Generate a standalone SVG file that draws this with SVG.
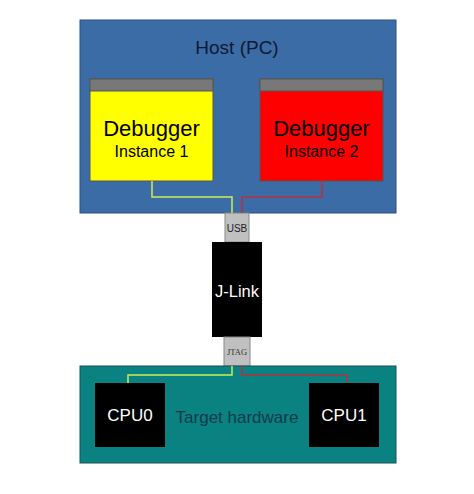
<svg xmlns="http://www.w3.org/2000/svg" width="474" height="494" viewBox="0 0 474 494">
<style>
.lbl{font-family:"Liberation Sans",Arial,sans-serif;text-anchor:middle}
.wy{fill:none;stroke:#ccee55;stroke-width:1.5}
.wr{fill:none;stroke:#b83040;stroke-width:1.5}
.bar{fill:#787878;stroke:#555;stroke-width:1}
</style>
<rect width="474" height="494" fill="#fff"/>
<g id="host">
<rect x="80" y="20" width="316" height="193" fill="#3c6ca6" stroke="#2c4f7a" stroke-width="1"/>
<text class="lbl" x="237" y="54" font-size="19" fill="#0d1a33">Host (PC)</text>
</g>
<g id="debugger1">
<rect x="90" y="79" width="123" height="102" fill="#ffff00" stroke="#555" stroke-width="1"/>
<rect class="bar" x="90" y="79" width="123" height="12"/>
<text class="lbl" x="151.5" y="136" font-size="22" fill="#000">Debugger</text>
<text class="lbl" x="151.5" y="157" font-size="16" fill="#000">Instance 1</text>
</g>
<g id="debugger2">
<rect x="260" y="79" width="123" height="102" fill="#ff0000" stroke="#555" stroke-width="1"/>
<rect class="bar" x="260" y="79" width="123" height="12"/>
<text class="lbl" x="321.5" y="136" font-size="22" fill="#000">Debugger</text>
<text class="lbl" x="321.5" y="157" font-size="16" fill="#000">Instance 2</text>
</g>
<g id="usb">
<rect x="225" y="213" width="24" height="29" fill="#c0c0c0" stroke="#888" stroke-width="1"/>
<text class="lbl" x="237" y="232" font-size="10" fill="#222">USB</text>
</g>
<g id="jlink">
<rect x="212" y="242" width="50" height="95" fill="#000"/>
<text class="lbl" x="237" y="297" font-size="16.5" fill="#fff">J-Link</text>
</g>
<g id="jtag">
<rect x="224" y="337" width="26" height="29" fill="#c0c0c0" stroke="#888" stroke-width="1"/>
<text x="237" y="355" font-size="8.5" fill="#333" font-family="Liberation Serif,serif" text-anchor="middle">JTAG</text>
</g>
<g id="target">
<rect x="80" y="366" width="316" height="97" fill="#0a8282" stroke="#1d4f55" stroke-width="1"/>
<text class="lbl" x="237" y="423" font-size="17" fill="#123a4a">Target hardware</text>
</g>
<g id="cpu0">
<rect x="95" y="383" width="70" height="64" fill="#000"/>
<text class="lbl" x="130" y="421" font-size="17" fill="#fff">CPU0</text>
</g>
<g id="cpu1">
<rect x="309" y="383" width="70" height="64" fill="#000"/>
<text class="lbl" x="344" y="421" font-size="17" fill="#fff">CPU1</text>
</g>
<g id="connectors">
<polyline class="wy" points="152,181 152,197 232,197 232,213"/>
<polyline class="wr" points="322,181 322,197 242,197 242,213"/>
<polyline class="wy" points="232,366 232,375 128,375 128,383"/>
<polyline class="wr" points="242,366 242,375 347,375 347,383"/>
</g>
</svg>
